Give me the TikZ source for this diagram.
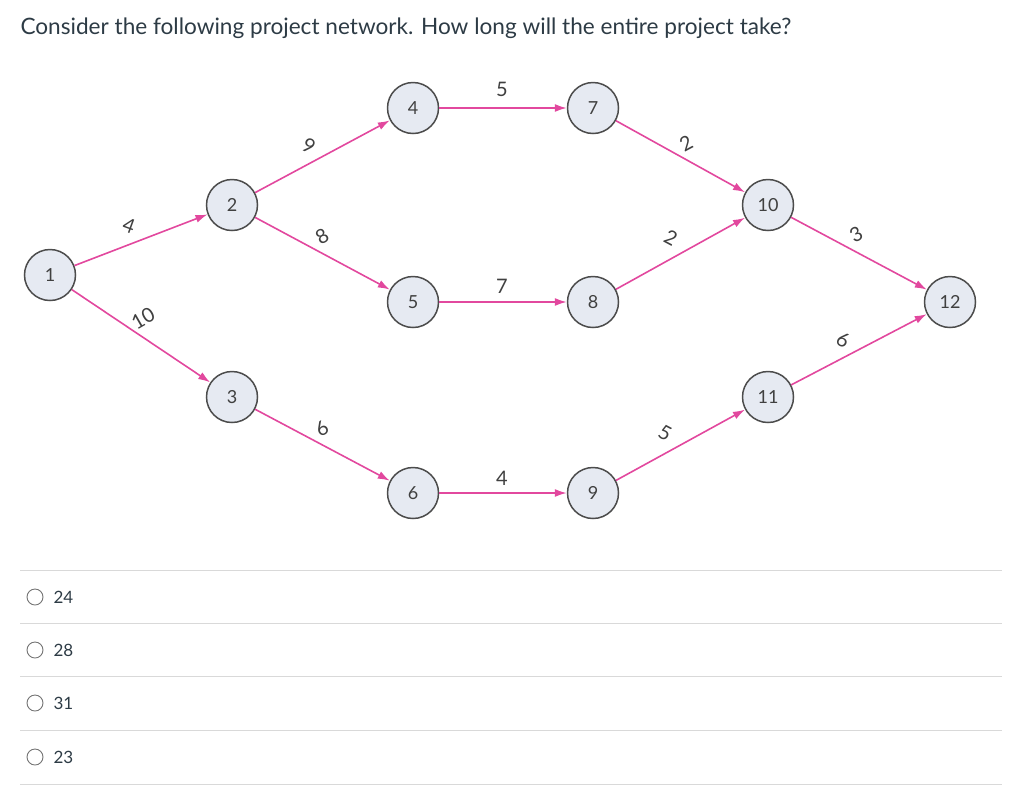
\documentclass[tikz,border=0pt]{standalone}
\usepackage{fontspec}
\setmainfont{Lato}
\usetikzlibrary{arrows.meta}
\definecolor{pk}{HTML}{E2489E}
\definecolor{tx}{HTML}{2D3B45}
\definecolor{nf}{HTML}{E6EAF2}
\definecolor{ln}{HTML}{D9D9D9}
\begin{document}
\begin{tikzpicture}[x=1pt,y=-1pt,
  nd/.style={circle,draw=black!70,line width=1.5pt,fill=nf,minimum size=51pt,inner sep=0pt,font=\fontsize{18}{18}\selectfont,text=black!75},
  ed/.style={draw=pk,line width=1.6pt,-{Latex[length=12pt,width=8pt]}},
  lb/.style={font=\fontsize{20}{20}\selectfont,text=black!75},
  opt/.style={anchor=west,font=\fontsize{17}{17}\selectfont,text=tx}]
\useasboundingbox (0,0) rectangle (1024,801);
\node[anchor=west,font=\fontsize{22.6}{22.6}\selectfont,text=tx] (title) at (17,28) {Consider the following project network. How long will the entire project take?};
\node[nd] (n1) at (50,275) {1};
\node[nd] (n2) at (232,205) {2};
\node[nd] (n3) at (232,397) {3};
\node[nd] (n4) at (413,108) {4};
\node[nd] (n5) at (413,302) {5};
\node[nd] (n6) at (413,493) {6};
\node[nd] (n7) at (593,108) {7};
\node[nd] (n8) at (593,302) {8};
\node[nd] (n9) at (593,493) {9};
\node[nd] (n10) at (768,205) {10};
\node[nd] (n11) at (768,397) {11};
\node[nd] (n12) at (950,302) {12};
\draw[ed] (n1) -- (n2);
\draw[ed] (n1) -- (n3);
\draw[ed] (n2) -- (n4);
\draw[ed] (n2) -- (n5);
\draw[ed] (n3) -- (n6);
\draw[ed] (n4) -- (n7);
\draw[ed] (n5) -- (n8);
\draw[ed] (n6) -- (n9);
\draw[ed] (n7) -- (n10);
\draw[ed] (n8) -- (n10);
\draw[ed] (n9) -- (n11);
\draw[ed] (n10) -- (n12);
\draw[ed] (n11) -- (n12);
\node[lb,rotate=-20] (l12) at (129,226) {4};
\node[lb,rotate=30] (l13) at (143,318) {10};
\node[lb,rotate=-28] (l24) at (309,146) {9};
\node[lb,rotate=30] (l25) at (322,236) {8};
\node[lb,rotate=28] (l36) at (322,429) {6};
\node[lb] (l47) at (502,89) {5};
\node[lb] (l58) at (502,286) {7};
\node[lb] (l69) at (502,478) {4};
\node[lb,rotate=28] (l710) at (686,143) {2};
\node[lb,rotate=-28] (l810) at (671,238) {2};
\node[lb,rotate=-28] (l911) at (665,433) {5};
\node[lb,rotate=28] (l1012) at (856,234) {3};
\node[lb,rotate=-28] (l1112) at (843,340) {6};
\foreach \y/\t [count=\i] in {597/24,650/28,703/31,757/23}{
  \draw[ln,line width=1pt] (20,\y-27) -- (1002,\y-27);
  \draw[black!55,line width=0.9pt] (35,\y) circle (8);
  \node[opt] (o\i) at (50,\y) {\t};
}
\draw[ln,line width=1pt] (20,784) -- (1002,784);
\end{tikzpicture}
\end{document}
